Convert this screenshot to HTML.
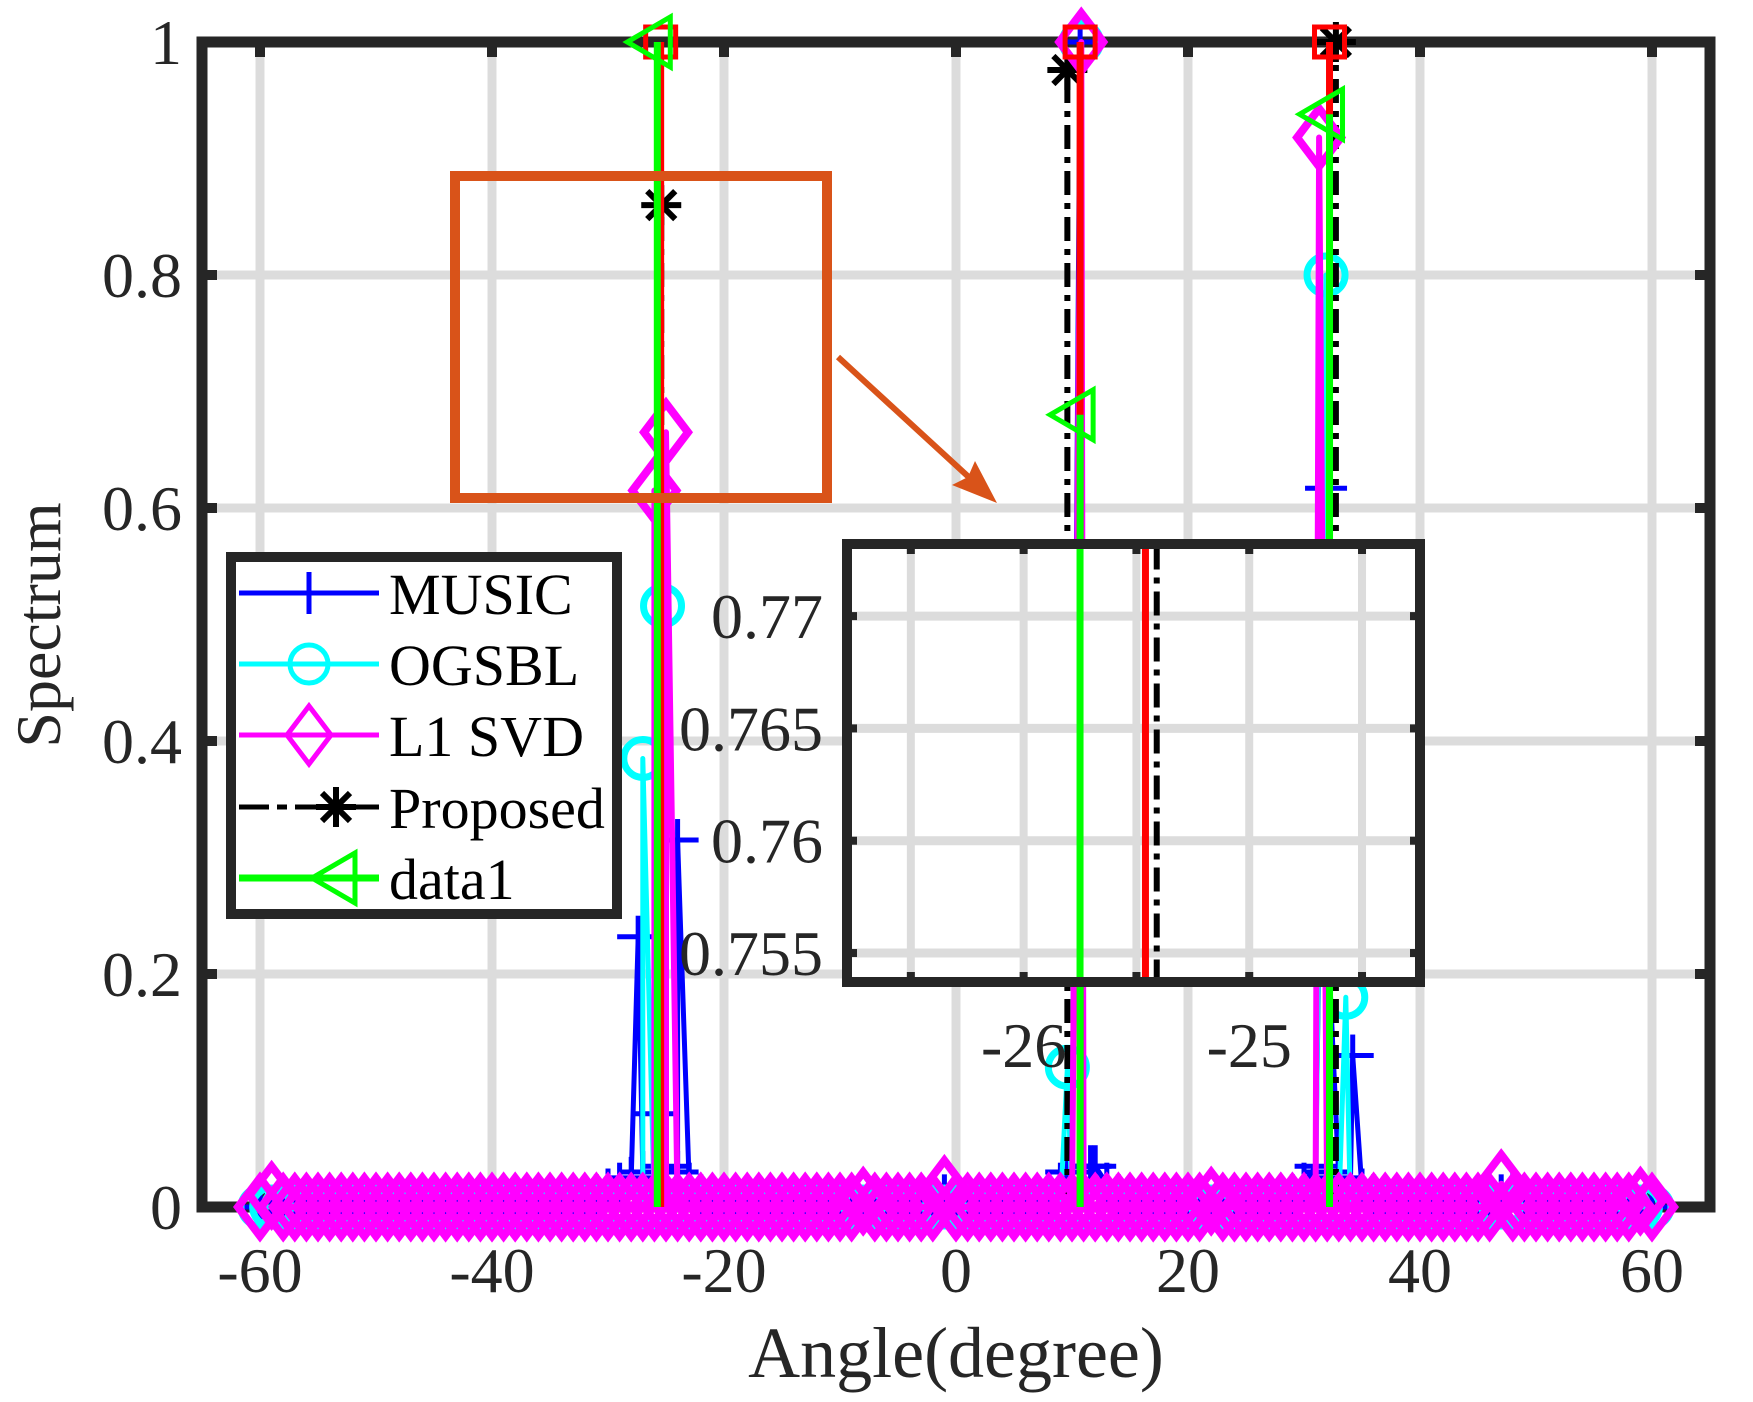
<!DOCTYPE html>
<html><head><meta charset="utf-8"><style>
html,body{margin:0;padding:0;background:#fff;width:1753px;height:1402px;overflow:hidden;}
svg{display:block;font-family:"Liberation Serif",serif;}
</style></head><body>
<svg id="chart" width="1753" height="1402" viewBox="0 0 1753 1402" xmlns="http://www.w3.org/2000/svg">
<defs>
<clipPath id="insetClip"><rect x="847" y="544" width="573" height="438"/></clipPath>
</defs>
<rect x="0" y="0" width="1753" height="1402" fill="#fff"/>
<g id="grid"></g>
<g id="axes"></g>
<g id="series"></g>
<g id="zoomBox">
<rect x="455" y="176" width="372" height="322" fill="none" stroke="#D95319" stroke-width="10"/>
<line x1="838" y1="357" x2="985" y2="492" stroke="#D95319" stroke-width="6"/>
<polygon points="997,503 952,485 968,477 975,461" fill="#D95319"/>
</g>
<g id="legend"></g>
<g id="inset"></g>
<text x="956" y="1377" font-size="72" text-anchor="middle" fill="#262626">Angle(degree)</text>
<text transform="translate(60,625) rotate(-90)" font-size="64" text-anchor="middle" fill="#262626">Spectrum</text>
</svg>
<script>
// ---- data ----
const gridAngles = [-60,-59,-58,-57,-56,-55,-54,-53,-52,-51,-50,-49,-48,-47,-46,-45,-44,-43,-42,-41,-40,-39,-38,-37,-36,-35,-34,-33,-32,-31,-30,-29,-28,-27,-26,-25,-24,-23,-22,-21,-20,-19,-18,-17,-16,-15,-14,-13,-12,-11,-10,-9,-8,-7,-6,-5,-4,-3,-2,-1,0,1,2,3,4,5,6,7,8,9,10,11,12,13,14,15,16,17,18,19,20,21,22,23,24,25,26,27,28,29,30,31,32,33,34,35,36,37,38,39,40,41,42,43,44,45,46,47,48,49,50,51,52,53,54,55,56,57,58,59,60];
const musicBase = [0,0,0,0,0,0,0,0,0,0,0,0,0,0,0,0,0,0,0,0,0,0,0,0,0,0,0,0,0.005,0.01,0.015,0.02,0.025,0.03,0.03,0.035,0.03,0.02,0.01,0.005,0,0,0,0,0,0,0,0,0,0,0,0,0,0,0,0,0,0,0,0.01,0.01,0,0,0,0,0,0,0,0.01,0.02,0.03,0.035,0.035,0.02,0.01,0,0,0,0,0,0,0,0,0,0,0,0,0,0,0.01,0.02,0.035,0.03,0.025,0.02,0.015,0.01,0.005,0,0,0,0,0,0,0,0,0,0.01,0.015,0,0,0,0,0,0,0,0,0,0,0,0,0];
const ogsblBase = [0,0,0,0,0,0,0,0,0,0,0,0,0,0,0,0,0,0,0,0,0,0,0,0,0,0,0,0,0,0,0,0,0,0,0,0,0,0,0,0,0,0,0,0,0,0,0,0,0,0,0,0,0,0,0,0,0,0,0,0,0,0,0,0,0,0,0,0,0,0,0,0,0,0,0,0,0,0,0,0,0,0,0,0,0,0,0,0,0,0,0,0,0,0,0,0,0,0,0,0,0,0,0,0,0,0,0,0,0,0,0,0,0,0,0,0,0,0,0,0,0];
const l1Base = [0,0.01,0,0,0,0,0,0,0,0,0,0,0,0,0,0,0,0,0,0,0,0,0,0,0,0,0,0,0,0,0,0,0,0,0,0,0,0,0,0,0,0,0,0,0,0,0,0,0,0,0,0,0.005,0,0,0,0,0,0,0.015,0,0,0,0,0,0,0,0,0,0,0,0,0,0,0,0,0,0,0,0,0,0,0.005,0,0,0,0,0,0,0,0,0,0,0,0,0,0,0,0,0,0,0,0,0,0,0,0,0.02,0,0,0,0,0,0,0,0,0,0,0,0.005,0];
const musicPeakAngles = [-27.4,-25.9,-24.0,9.5,10.7,11.6,31.9,32.2,34.2];
const musicPeakValues = [0.232,0.08,0.315,0.03,1.0,0.035,0.617,0.2,0.13];
const ogsblPeakAngles = [-27.0,-25.3,9.6,10.8,31.9,33.6];
const ogsblPeakValues = [0.385,0.516,0.12,1.0,0.8,0.18];
const l1PeakAngles = [-26.0,-25.0,10.8,31.3];
const l1PeakValues = [0.615,0.665,1.0,0.918];
const proposedAngles = [-25.41,9.6,32.75];
const proposedValues = [0.86,0.976,1.0];
const data1Angles = [-25.75,10.7,32.2];
const data1Values = [1.0,0.68,0.938];
const redAngles = [-25.46,10.7,32.2];
const redValues = [1.0,1.0,1.0];
const xTicks = [-60,-40,-20,0,20,40,60];
const xTickLabels = ["-60","-40","-20","0","20","40","60"];
const yTicks = [0,0.2,0.4,0.6,0.8,1];
const yTickLabels = ["0","0.2","0.4","0.6","0.8","1"];
const insetXTicks = [-26.5,-26,-25.5,-25,-24.5];
const insetXLabelTicks = [-26,-25];
const insetXLabels = ["-26","-25"];
const insetYTicks = [0.755,0.76,0.765,0.77];
const insetYLabels = ["0.755","0.76","0.765","0.77"];

// ---- scales ----
const X0=202,X1=1710,Y0=1207,Y1=42;
const xMin=-65,xMax=65,yMin=0,yMax=1;
const sx = v => X0 + (v - xMin) / (xMax - xMin) * (X1 - X0);
const sy = v => Y0 - (v - yMin) / (yMax - yMin) * (Y0 - Y1);
const IX0=847,IX1=1420,IY0=982,IY1=544;
const ixMin=-26.783,ixMax=-24.243,iyMin=0.75371,iyMax=0.77321;
const isx = v => IX0 + (v - ixMin) / (ixMax - ixMin) * (IX1 - IX0);
const isy = v => IY0 - (v - iyMin) / (iyMax - iyMin) * (IY0 - IY1);

const NS="http://www.w3.org/2000/svg";
function mk(tag, attrs, parent){const e=document.createElementNS(NS,tag);for(const k in attrs)e.setAttribute(k,attrs[k]);parent.appendChild(e);return e;}

function marker(type, cx, cy, parent, scale){
  const s = scale||1;
  let g = mk('g',{},parent);
  if(type==='plus'){
    mk('line',{x1:cx-21*s,y1:cy,x2:cx+21*s,y2:cy,stroke:'#0000ff','stroke-width':5},g);
    mk('line',{x1:cx,y1:cy-21*s,x2:cx,y2:cy+21*s,stroke:'#0000ff','stroke-width':5},g);
  } else if(type==='circle'){
    mk('circle',{cx:cx,cy:cy,r:19*s,fill:'none',stroke:'#00ffff','stroke-width':5},g);
  } else if(type==='diamond'){
    mk('polygon',{points:`${cx},${cy-29*s} ${cx+22*s},${cy} ${cx},${cy+29*s} ${cx-22*s},${cy}`,fill:'none',stroke:'#ff00ff','stroke-width':5},g);
  } else if(type==='star'){
    const r=20*s;
    mk('line',{x1:cx,y1:cy-r,x2:cx,y2:cy+r,stroke:'#000','stroke-width':6},g);
    mk('line',{x1:cx-r,y1:cy,x2:cx+r,y2:cy,stroke:'#000','stroke-width':6},g);
    mk('line',{x1:cx-14*s,y1:cy-14*s,x2:cx+14*s,y2:cy+14*s,stroke:'#000','stroke-width':6},g);
    mk('line',{x1:cx-14*s,y1:cy+14*s,x2:cx+14*s,y2:cy-14*s,stroke:'#000','stroke-width':6},g);
  } else if(type==='tri'){
    mk('polygon',{points:`${cx-26*s},${cy} ${cx+17*s},${cy-25*s} ${cx+17*s},${cy+25*s}`,fill:'none',stroke:'#00ff00','stroke-width':5},g);
  } else if(type==='square'){
    mk('rect',{x:cx-15*s,y:cy-15*s,width:30*s,height:30*s,fill:'none',stroke:'#ff0000','stroke-width':5},g);
  }
  return g;
}

// ---- grid ----
const grid=document.getElementById('grid');
xTicks.forEach(t=>{
  const l=mk('line',{x1:sx(t),y1:Y1,x2:sx(t),y2:Y0,stroke:'#dcdcdc','stroke-width':9},grid);
  
  
});
yTicks.forEach(t=>{
  const l=mk('line',{x1:X0,y1:sy(t),x2:X1,y2:sy(t),stroke:'#dcdcdc','stroke-width':9},grid);
  
  
});

// ---- axes ----
const ax=document.getElementById('axes');
const frame=mk('rect',{x:X0,y:Y1,width:X1-X0,height:Y0-Y1,fill:'none',stroke:'#262626','stroke-width':11},ax);


xTicks.forEach((t,i)=>{
  mk('line',{x1:sx(t),y1:Y0,x2:sx(t),y2:Y0-15,stroke:'#262626','stroke-width':10},ax);
  mk('line',{x1:sx(t),y1:Y1,x2:sx(t),y2:Y1+15,stroke:'#262626','stroke-width':10},ax);
  const tx=mk('text',{x:sx(t),y:1292,'font-size':64,'text-anchor':'middle',fill:'#262626'},ax);
  tx.textContent=xTickLabels[i];
  
  
});
yTicks.forEach((t,i)=>{
  mk('line',{x1:X0,y1:sy(t),x2:X0+15,y2:sy(t),stroke:'#262626','stroke-width':10},ax);
  mk('line',{x1:X1,y1:sy(t),x2:X1-15,y2:sy(t),stroke:'#262626','stroke-width':10},ax);
  const tx=mk('text',{x:182,y:sy(t)+22,'font-size':64,'text-anchor':'end',fill:'#262626'},ax);
  tx.textContent=yTickLabels[i];
  
  
});

// ---- series ----
const ser=document.getElementById('series');
function merged(baseA, baseV, pa, pv){
  const pts=baseA.map((a,i)=>[a,baseV[i]]).concat(pa.map((a,i)=>[a,pv[i]]));
  pts.sort((p,q)=>p[0]-q[0]);
  return pts;
}
function drawLineSeries(name, pts, color, width, mtype, mstroke){
  const g=mk('g',{},ser);
  
  
  const d=pts.map((p,i)=>(i?'L':'M')+sx(p[0]).toFixed(1)+','+sy(p[1]).toFixed(1)).join(' ');
  const path=mk('path',{d:d,fill:'none',stroke:color,'stroke-width':width,'stroke-linejoin':'round'},g);
  
  
  pts.forEach(p=>{
    const m=marker(mtype,sx(p[0]),sy(p[1]),g);
    if(mstroke) m.firstChild.setAttribute('stroke-width',mstroke);
    
    
  });
}
function drawSpikes(name, angles, values, color, width, mtype, dash, sxf, syf, parent, withMarkers){
  const g=mk('g',{},parent);
  
  
  angles.forEach((a,i)=>{
    const l=mk('line',{x1:sxf(a),y1:syf(0),x2:sxf(a),y2:syf(values[i]),stroke:color,'stroke-width':width},g);
    if(dash)l.setAttribute('stroke-dasharray',dash);
    
    
    if(withMarkers){
      const m=marker(mtype,sxf(a)-(mtype==='tri'?4:0),syf(values[i]),g);
      
      
    }
  });
}
drawLineSeries('music-series', merged(gridAngles,musicBase,musicPeakAngles,musicPeakValues), '#0000ff', 5, 'plus');
drawLineSeries('ogsbl-series', merged(gridAngles,ogsblBase,ogsblPeakAngles,ogsblPeakValues), '#00ffff', 5, 'circle', 7);
drawSpikes('proposed-series', proposedAngles, proposedValues, '#000', 6, 'star', '24 8 6 8', sx, sy, ser, true);
drawLineSeries('l1svd-series', merged(gridAngles,l1Base,l1PeakAngles,l1PeakValues), '#ff00ff', 6, 'diamond', 8);
drawSpikes('red-series', redAngles, redValues, '#ff0000', 7, 'square', null, sx, sy, ser, true);
drawSpikes('data1-series', data1Angles, data1Values, '#00ff00', 7, 'tri', null, sx, sy, ser, true);

// ---- legend ----
const lg=document.getElementById('legend');
const lbox=mk('rect',{x:231,y:557,width:386,height:357,fill:'#fff',stroke:'#262626','stroke-width':10},lg);


const legendNames=['MUSIC','OGSBL','L1 SVD','Proposed','data1'];
const legendColors=['#0000ff','#00ffff','#ff00ff','#000000','#00ff00'];
const legendMarkers=['plus','circle','diamond','star','tri'];
const legendY=[593,664,735,807,878];
legendNames.forEach((n,i)=>{
  const g=mk('g',{},lg);
  
  
  const ln=mk('line',{x1:239,y1:legendY[i],x2:379,y2:legendY[i],stroke:legendColors[i],'stroke-width':i===4?7:5},g);
  if(i===3)ln.setAttribute('stroke-dasharray','30 8 10 8');
  marker(legendMarkers[i], i===3?336:(i===4?338:309), legendY[i], g);
  const tx=mk('text',{x:389,y:legendY[i]+21,'font-size':58,fill:'#000'},g);
  tx.textContent=n;
});

// ---- inset ----
const ins=document.getElementById('inset');
const ibg=mk('rect',{x:IX0,y:IY1,width:IX1-IX0,height:IY0-IY1,fill:'#fff'},ins);


insetXTicks.forEach(t=>{
  const l=mk('line',{x1:isx(t),y1:IY1,x2:isx(t),y2:IY0,stroke:'#dcdcdc','stroke-width':8},ins);
  
  
});
insetYTicks.forEach(t=>{
  const l=mk('line',{x1:IX0,y1:isy(t),x2:IX1,y2:isy(t),stroke:'#dcdcdc','stroke-width':9},ins);
  
  
});
const iser=mk('g',{'clip-path':'url(#insetClip)'},ins);


drawSpikes('inset-data1', data1Angles, data1Values, '#00ff00', 7, 'tri', null, isx, isy, iser, false);
drawSpikes('inset-red', redAngles, redValues, '#ff0000', 7, 'square', null, isx, isy, iser, false);
drawSpikes('inset-proposed', proposedAngles, proposedValues, '#000', 6, 'star', '24 8 6 8', isx, isy, iser, false);
const iframe=mk('rect',{x:IX0,y:IY1,width:IX1-IX0,height:IY0-IY1,fill:'none',stroke:'#262626','stroke-width':10},ins);


insetXTicks.forEach(t=>{
  mk('line',{x1:isx(t),y1:IY0,x2:isx(t),y2:IY0-10,stroke:'#262626','stroke-width':8},ins);
  mk('line',{x1:isx(t),y1:IY1,x2:isx(t),y2:IY1+10,stroke:'#262626','stroke-width':8},ins);
});
insetYTicks.forEach((t,i)=>{
  mk('line',{x1:IX0,y1:isy(t),x2:IX0+10,y2:isy(t),stroke:'#262626','stroke-width':8},ins);
  mk('line',{x1:IX1,y1:isy(t),x2:IX1-10,y2:isy(t),stroke:'#262626','stroke-width':8},ins);
  const tx=mk('text',{x:823,y:isy(t)+22,'font-size':64,'text-anchor':'end',fill:'#262626'},ins);
  tx.textContent=insetYLabels[i];
  
  
});
insetXLabelTicks.forEach((t,i)=>{
  const tx=mk('text',{x:isx(t),y:1067,'font-size':64,'text-anchor':'middle',fill:'#262626'},ins);
  tx.textContent=insetXLabels[i];
  
  
});
</script>
</body></html>
